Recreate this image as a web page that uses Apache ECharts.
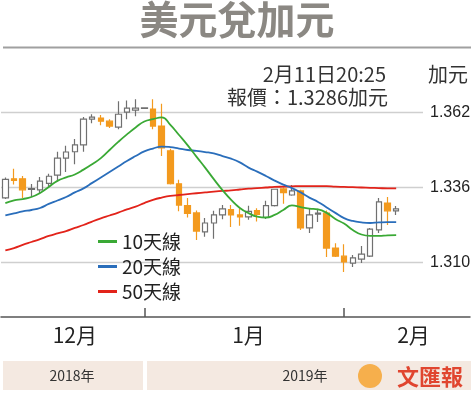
<!DOCTYPE html>
<html><head><meta charset="utf-8">
<script src="https://cdn.jsdelivr.net/npm/echarts@6/dist/echarts.min.js"></script>
<style>html,body{margin:0;padding:0;background:#fff}#c{width:474px;height:397px}</style>
</head><body><div id="c"></div>
<script>
// ---- data ----
const dates = [
 '2018-12-10','2018-12-11','2018-12-12','2018-12-13','2018-12-14','2018-12-17','2018-12-18','2018-12-19','2018-12-20','2018-12-21',
 '2018-12-24','2018-12-25','2018-12-26','2018-12-27','2018-12-28','2018-12-31',
 '2019-01-01','2019-01-02','2019-01-03','2019-01-04','2019-01-07','2019-01-08','2019-01-09','2019-01-10','2019-01-11',
 '2019-01-14','2019-01-15','2019-01-16','2019-01-17','2019-01-18','2019-01-21','2019-01-22','2019-01-23','2019-01-24','2019-01-25',
 '2019-01-28','2019-01-29','2019-01-30','2019-01-31',
 '2019-02-01','2019-02-04','2019-02-05','2019-02-06','2019-02-07','2019-02-08','2019-02-11',
 '2019-02-12','2019-02-13','2019-02-14','2019-02-15','2019-02-18','2019-02-19','2019-02-20','2019-02-21'
];
// [open, close, low, high]
const candles = [
 [1.3324,1.3388,1.3320,1.3395],[1.3390,1.3385,1.3370,1.3425],[1.3390,1.3352,1.3324,1.3400],[1.3353,1.3356,1.3327,1.3372],
 [1.3352,1.3382,1.3341,1.3396],[1.3374,1.3399,1.3363,1.3408],[1.3403,1.3462,1.3382,1.3484],[1.3462,1.3483,1.3414,1.3505],
 [1.3484,1.3508,1.3441,1.3528],[1.3508,1.3597,1.3484,1.3604],[1.3597,1.3604,1.3583,1.3614],[1.3601,1.3590,1.3576,1.3611],
 [1.3590,1.3573,1.3566,1.3597],[1.3569,1.3614,1.3562,1.3659],[1.3621,1.3635,1.3597,1.3662],[1.3628,1.3635,1.3607,1.3666],
 [1.3634,1.3636,1.3632,1.3638],[1.3632,1.3573,1.3562,1.3666],[1.3573,1.3497,1.3469,1.3650],[1.3487,1.3373,1.3370,1.3494],
 [1.3373,1.3299,1.3278,1.3387],[1.3297,1.3270,1.3256,1.3324],[1.3272,1.3209,1.3178,1.3280],[1.3206,1.3237,1.3189,1.3254],
 [1.3237,1.3265,1.3182,1.3279],[1.3265,1.3286,1.3250,1.3299],[1.3283,1.3265,1.3223,1.3299],[1.3265,1.3258,1.3227,1.3286],
 [1.3258,1.3277,1.3248,1.3297],[1.3280,1.3267,1.3242,1.3288],[1.3256,1.3297,1.3251,1.3314],[1.3297,1.3354,1.3294,1.3356],
 [1.3355,1.3342,1.3304,1.3361],[1.3334,1.3348,1.3331,1.3369],[1.3348,1.3220,1.3213,1.3352],[1.3220,1.3265,1.3202,1.3289],
 [1.3268,1.3271,1.3240,1.3286],[1.3271,1.3150,1.3119,1.3280],[1.3150,1.3122,1.3119,1.3167],[1.3122,1.3102,1.3067,1.3163],
 [1.3098,1.3116,1.3084,1.3126],[1.3112,1.3129,1.3098,1.3157],[1.3122,1.3216,1.3119,1.3220],[1.3213,1.3310,1.3202,1.3324],
 [1.3306,1.3279,1.3230,1.3327],[1.3279,1.3286,1.3265,1.3296]
];
const ma10 = [1.3306,1.3315,1.3320,1.3327,1.3341,1.3362,1.3383,1.3395,1.3405,1.3422,1.3441,1.3462,1.3490,1.3518,1.3544,1.3568,
 1.3589,1.3597,1.3603,1.3577,1.3542,1.3506,1.3467,1.3429,1.3389,1.3351,1.3317,1.3289,1.3271,1.3259,1.3256,1.3265,1.3282,1.3298,
 1.3292,1.3287,1.3284,1.3272,1.3251,1.3235,1.3213,1.3197,1.3192,1.3192,1.3194,1.3195];
const ma20 = [1.3263,1.3270,1.3277,1.3282,1.3289,1.3303,1.3315,1.3327,1.3343,1.3357,1.3376,1.3395,1.3414,1.3433,1.3452,1.3469,
 1.3485,1.3495,1.3502,1.3500,1.3495,1.3490,1.3487,1.3483,1.3478,1.3469,1.3460,1.3447,1.3429,1.3415,1.3400,1.3384,1.3370,1.3358,
 1.3343,1.3325,1.3310,1.3291,1.3272,1.3254,1.3244,1.3239,1.3237,1.3239,1.3240,1.3240];
const ma50 = [1.3142,1.3150,1.3161,1.3171,1.3181,1.3192,1.3201,1.3209,1.3220,1.3230,1.3242,1.3253,1.3263,1.3273,1.3284,1.3294,
 1.3306,1.3317,1.3325,1.3331,1.3334,1.3337,1.3340,1.3343,1.3346,1.3348,1.3350,1.3353,1.3356,1.3358,1.3360,1.3362,1.3363,1.3364,
 1.3365,1.3365,1.3365,1.3365,1.3363,1.3362,1.3361,1.3360,1.3359,1.3358,1.3357,1.3357];
const priceTicks = [1.310, 1.336, 1.362];
const monthLabelIdx = [8, 28, 47];
const monthLabels = ['12月', '1月', '2月'];
const monthTickIdx = [16, 39];
const yearLabels = ['2018年', '2019年'];
const unitLabel = '加元';
const quoteTime = '2月11日20:25';
const quoteText = '報價：1.3286加元';

// ---- chart ----
const FONT = '"Noto Sans CJK TC","Noto Sans",sans-serif';
const chart = echarts.init(document.getElementById('c'), null, {renderer: 'canvas'});
const pxPerUnit = 150 / (priceTicks[2] - priceTicks[0]);
const yTop = 112.5, yMin0 = 1.300, yMax0 = 1.370;
const g0top = yTop - (yMax0 - priceTicks[2]) * pxPerUnit;
const g0h = (yMax0 - yMin0) * pxPerUnit;
const axisY = 317;

chart.setOption({
  animation: false,
  backgroundColor: '#fff',
  textStyle: {fontFamily: FONT},
  grid: [
    {left: 1, right: 4, top: g0top, height: g0h},
    {left: 1, right: 51, top: yTop, height: 150}
  ],
  legend: {
    orient: 'vertical', left: 93, top: 227, itemGap: 6,
    itemWidth: 19, itemHeight: 3, icon: 'rect',
    textStyle: {fontSize: 19, color: '#222', fontFamily: FONT},
    data: ['10天線', '20天線', '50天線']
  },
  xAxis: [
    {
      type: 'category', gridIndex: 0, data: dates, boundaryGap: true,
      offset: axisY - (g0top + g0h),
      axisLine: {lineStyle: {color: '#555', width: 1.5}},
      axisTick: {show: true, inside: true, length: 9, alignWithLabel: true,
        interval: (i) => monthTickIdx.includes(i), lineStyle: {color: '#555', width: 1.5}},
      axisLabel: {
        interval: (i) => monthLabelIdx.includes(i),
        formatter: (v, i) => monthLabels[monthLabelIdx.indexOf(i)] || '',
        fontSize: 21, color: '#222', margin: 8, fontFamily: FONT
      },
      splitLine: {show: false}
    },
    {type: 'value', gridIndex: 1, show: false, min: 0, max: 1}
  ],
  yAxis: [
    {type: 'value', gridIndex: 0, min: yMin0, max: yMax0, show: false, splitLine: {show: false}},
    {
      type: 'value', gridIndex: 1, position: 'right',
      min: priceTicks[0], max: priceTicks[2], interval: priceTicks[1] - priceTicks[0],
      axisLine: {show: false}, axisTick: {show: false},
      axisLabel: {fontSize: 16, color: '#222', margin: 7, fontFamily: '"Liberation Sans",Arial,sans-serif',
        formatter: (v) => v.toFixed(3)},
      splitLine: {lineStyle: {color: '#cfcfcf', width: 1.3}}
    }
  ],
  series: [
    {
      type: 'candlestick', name: 'USDCAD', xAxisIndex: 0, yAxisIndex: 0,
      data: candles, barWidth: 6,
      itemStyle: {color: '#ffffff', borderColor: '#707070', color0: '#f39a1e', borderColor0: '#f39a1e', borderWidth: 1.2}
    },
    {type: 'line', name: '50天線', data: ma50, smooth: true, symbol: 'none',
      lineStyle: {color: '#e2231a', width: 1.8}, itemStyle: {color: '#e2231a'}, z: 3},
    {type: 'line', name: '20天線', data: ma20, smooth: true, symbol: 'none',
      lineStyle: {color: '#2a6ebb', width: 1.8}, itemStyle: {color: '#2a6ebb'}, z: 3},
    {type: 'line', name: '10天線', data: ma10, smooth: true, symbol: 'none',
      lineStyle: {color: '#3aa935', width: 1.8}, itemStyle: {color: '#3aa935'}, z: 3}
  ],
  graphic: [
    {type: 'text', left: 'center', top: 0, style: {text: '美元兌加元', fontSize: 39, fontWeight: 'bold', fill: '#8b8883', fontFamily: FONT}},
    {type: 'line', shape: {x1: 3, y1: 47.5, x2: 471, y2: 47.5}, style: {stroke: '#a0a0a0', lineWidth: 2}},
    {type: 'text', x: 428, y: 74, style: {text: unitLabel, fontSize: 20, fill: '#333', align: 'left', verticalAlign: 'middle', fontFamily: FONT}},
    {type: 'text', x: 386, y: 74, style: {text: quoteTime, fontSize: 20, fill: '#333', align: 'right', verticalAlign: 'middle', fontFamily: FONT}},
    {type: 'text', x: 388, y: 97, style: {text: quoteText, fontSize: 20, fill: '#333', align: 'right', verticalAlign: 'middle', fontFamily: FONT}},
    {type: 'rect', shape: {x: 3, y: 361, width: 140, height: 29}, style: {fill: '#f4e9e1'}},
    {type: 'rect', shape: {x: 147, y: 361, width: 324, height: 29}, style: {fill: '#f4e9e1'}},
    {type: 'text', x: 72, y: 376, style: {text: yearLabels[0], fontSize: 14, fill: '#333', align: 'center', verticalAlign: 'middle', fontFamily: FONT}},
    {type: 'text', x: 305, y: 376, style: {text: yearLabels[1], fontSize: 14, fill: '#333', align: 'center', verticalAlign: 'middle', fontFamily: FONT}},
    {type: 'circle', shape: {cx: 370, cy: 376, r: 12}, style: {fill: '#f6a531', opacity: 0.85}},
    {type: 'text', x: 430, y: 377, style: {text: '文匯報', fontSize: 22, fontWeight: 'bold', fill: '#e0452f', align: 'center', verticalAlign: 'middle', fontFamily: FONT}}
  ]
});
</script></body></html>
